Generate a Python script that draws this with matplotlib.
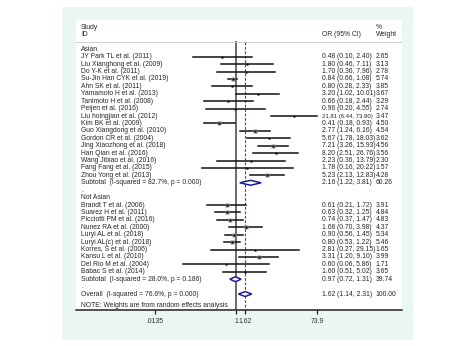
import matplotlib
matplotlib.use("Agg")
import matplotlib.pyplot as plt
import matplotlib.transforms as mtransforms
from matplotlib.patches import Rectangle, Polygon
import numpy as np

plt.rcParams['font.family'] = ['Liberation Sans', 'DejaVu Sans']

# datos de los estudios
asian_names = ["JY Park TL et al. (2011)", "Liu Xianghong et al. (2009)", "Do Y-K et al. (2011)",
               "Su-Jin Han CYK et al. (2019)", "Ahn SK et al. (2011)", "Yamamoto H et al. (2013)",
               "Tanimoto H et al. (2008)", "Peijen et al. (2016)", "Liu hoingjian et al. (2012)",
               "Kim BK et al. (2009)", "Guo Xiangdong et al. (2010)", "Gordon CR et al. (2004)",
               "Jing Xiaozhong et al. (2018)", "Han Qian et al. (2016)", "Wang Jibiao et al. (2016)",
               "Fang Fang et al. (2015)", "Zhou Yong et al. (2013)"]
asian_or = [0.48, 1.80, 1.70, 0.84, 0.80, 3.20, 0.66, 0.96, 21.81, 0.41, 2.77, 5.67, 7.21, 8.20, 2.23, 1.78, 5.23]
asian_lo = [0.10, 0.46, 0.36, 0.66, 0.28, 1.02, 0.18, 0.20, 6.44, 0.18, 1.24, 1.78, 3.26, 2.51, 0.36, 0.16, 2.13]
asian_hi = [2.40, 7.11, 7.96, 1.08, 2.33, 10.01, 2.44, 4.55, 73.90, 0.93, 6.16, 18.03, 15.93, 26.76, 13.79, 20.22, 12.83]
asian_w = [2.65, 3.13, 2.78, 5.74, 3.85, 3.67, 3.29, 2.74, 3.47, 4.50, 4.54, 3.62, 4.56, 3.56, 2.30, 1.57, 4.28]

notasian_names = ["Brandt T et al. (2006)", "Suarez H et al. (2011)", "Picciotti PM et al. (2016)",
                  "Nunez RA et al. (2000)", "Luryi AL et al. (2018)", "Luryi AL(c) et al. (2018)",
                  "Korres, S et al. (2006)", "Kansu L et al. (2010)", "Del Rio M et al. (2004)",
                  "Babac S et al. (2014)"]
notasian_or = [0.61, 0.63, 0.74, 1.68, 0.90, 0.80, 2.81, 3.31, 0.60, 1.60]
notasian_lo = [0.21, 0.32, 0.37, 0.70, 0.56, 0.53, 0.27, 1.20, 0.06, 0.51]
notasian_hi = [1.72, 1.25, 1.47, 3.98, 1.45, 1.22, 29.15, 9.10, 5.86, 5.02]
notasian_w = [3.91, 4.84, 4.83, 4.37, 5.34, 5.46, 1.65, 3.99, 1.71, 3.65]

# resumenes: etiqueta, OR, li, ls, peso
resumen_labels = ["Subtotal  (I-squared = 82.7%, p = 0.000)",
                  "Subtotal  (I-squared = 28.0%, p = 0.186)",
                  "Overall  (I-squared = 76.6%, p = 0.000)"]
resumen_or = [2.16, 0.97, 1.62]
resumen_lo = [1.22, 0.72, 1.14]
resumen_hi = [3.81, 1.31, 2.31]
resumen_w = [60.26, 39.74, 100.00]

tick_vals = [0.0135, 1, 1.62, 73.9]
tick_labels = [".0135", "1", "1.62", "73.9"]

W, H = 474, 346
fig = plt.figure(figsize=(W / 100, H / 100), dpi=100)
fig.patch.set_facecolor("white")
fondo = Rectangle((62 / W, 1 - 340 / H), (413 - 62) / W, (340 - 7) / H,
                  transform=fig.transFigure, facecolor="#e9f6f2", edgecolor="none", zorder=-10)
fig.add_artist(fondo)

ax = fig.add_axes([76 / W, 1 - 310 / H, 326 / W, 290 / H])
ax.set_zorder(5)
ax.set_facecolor("white")
ax.set_xscale("log")
ax.set_xlim(np.exp(-8.502), np.exp(8.82))
ax.set_ylim(34.15, -4.95)
for s in ["top", "left", "right"]:
    ax.spines[s].set_visible(False)
ax.spines["bottom"].set_color("#222222")
ax.spines["bottom"].set_linewidth(1.1)
ax.set_yticks([])
ax.set_xticks(tick_vals)
ax.set_xticklabels(tick_labels)
ax.xaxis.set_minor_locator(matplotlib.ticker.NullLocator())
ax.tick_params(axis="x", length=3, width=0.9, color="#222222", labelsize=4.9,
               labelcolor="#2a2a2a", pad=2.5)

trans = mtransforms.blended_transform_factory(ax.transAxes, ax.transData)
fs = 4.85
tc = "#262626"
xl, xor_, xw = 0.0153, 0.7546, 0.920

def texto(x, y, s, size=fs):
    ax.text(x, y, s, transform=trans, fontsize=size, color=tc, va="center", ha="left")

# encabezado
texto(xl, -4, "Study")
texto(xl, -3.05, "ID")
texto(xor_, -3.05, "OR (95% CI)")
texto(xw, -4, "%")
texto(xw, -3.05, "Weight")
ax.plot([0, 1], [-2, -2], transform=trans, color="#c8c8c8", lw=0.6)

# lineas de referencia
ax.plot([1, 1], [-2, 34.15], color="#6a6a6a", lw=1.4, zorder=1)
ax.plot([1.62, 1.62], [-2, 34.15], color="#a3243f", lw=0.8, ls=(0, (2.5, 1.5)), zorder=1)

def estudio(fila, nombre, o, lo, hi, w):
    texto(xl, fila, nombre)
    ic = "%.2f (%.2f, %.2f)" % (o, lo, hi)
    texto(xor_, fila, ic, fs if len(ic) < 19 else fs * 0.9)
    texto(xw, fila, "%.2f" % w)
    ax.plot([lo, hi], [fila, fila], color="#111111", lw=1.1, zorder=2)
    ax.plot([o], [fila], marker="s", ms=1.1 * np.sqrt(w), color="#8a8a8a", mec="none", zorder=3)
    ax.plot([o], [fila], marker="s", ms=2.0, color="#000000", mec="none", zorder=4)

def diamante(fila, nombre, o, lo, hi, w):
    texto(xl, fila, nombre)
    texto(xor_, fila, "%.2f (%.2f, %.2f)" % (o, lo, hi))
    texto(xw, fila, "%.2f" % w)
    h = 0.33
    ax.add_patch(Polygon([(lo, fila), (o, fila - h), (hi, fila), (o, fila + h)], closed=True,
                         facecolor="white", edgecolor="#1c1c9a", lw=1.1, zorder=3))

texto(xl, -1, "Asian")
for i in range(len(asian_names)):
    estudio(i, asian_names[i], asian_or[i], asian_lo[i], asian_hi[i], asian_w[i])
diamante(17, resumen_labels[0], resumen_or[0], resumen_lo[0], resumen_hi[0], resumen_w[0])
texto(xl, 18, ".")

texto(xl, 19, "Not Asian")
for i in range(len(notasian_names)):
    estudio(20 + i, notasian_names[i], notasian_or[i], notasian_lo[i], notasian_hi[i], notasian_w[i])
diamante(30, resumen_labels[1], resumen_or[1], resumen_lo[1], resumen_hi[1], resumen_w[1])
texto(xl, 31, ".")

diamante(32, resumen_labels[2], resumen_or[2], resumen_lo[2], resumen_hi[2], resumen_w[2])
texto(xl, 33.5, "NOTE: Weights are from random effects analysis")

fig.savefig("out.png", dpi=100)
